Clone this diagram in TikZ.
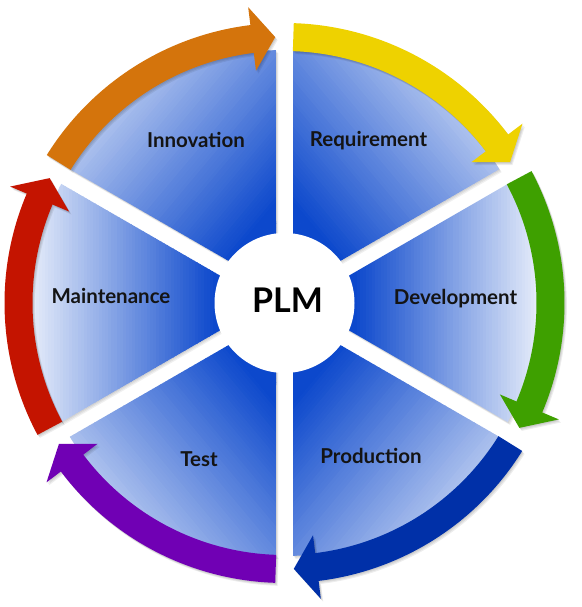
\documentclass[tikz,border=0pt]{standalone}
\usepackage{fontspec}
\setmainfont{Lato}
\definecolor{sectdark}{RGB}{12,72,204}
\definecolor{sectlight}{RGB}{232,238,250}
\definecolor{bandorange}{RGB}{212,116,12}
\definecolor{bandyellow}{RGB}{238,210,0}
\definecolor{bandgreen}{RGB}{62,160,0}
\definecolor{bandblue}{RGB}{0,48,168}
\definecolor{bandpurple}{RGB}{112,0,180}
\definecolor{bandred}{RGB}{196,20,0}
\tikzset{
  lbl/.style={font=\fontsize{20.5}{20.5}\selectfont\bfseries, text=black!92, inner sep=0pt, anchor=base},
  hub/.style={font=\fontsize{34}{34}\selectfont\bfseries, text=black, inner sep=0pt, anchor=base}
}
% wedge path: #1 bisector angle
\newcommand\plmwedgefill[2]{%
  \path[#2] (#1:17) -- ({#1-28.07}:253) arc[start angle={#1-28.07}, end angle={#1+28.07}, radius=253] -- cycle;}
% shaded sector: #1 bisector, #2 shading direction, #3 distance of lightest colour
\newcommand\plmsector[3]{%
  \begin{scope}
    \clip (#1:17) -- ({#1-28.07}:253) arc[start angle={#1-28.07}, end angle={#1+28.07}, radius=253] -- cycle;
    \begin{scope}[rotate=#2]
      \foreach \dd in {0,3,...,297} {
        \pgfmathtruncatemacro\mixp{max(0,min(100,round((\dd+1.5-70)/(#3-70)*100)))}
        \fill[sectlight!\mixp!sectdark] (\dd,-300) rectangle (\dd+3.6,300);
      }
    \end{scope}
  \end{scope}}
% curved arrow band: #1 start gap angle, #2 path options
\newcommand\plmband[2]{%
  \pgfmathsetmacro\bta{#1-1.9}%
  \pgfmathsetmacro\btb{#1-53}%
  \pgfmathsetmacro\btc{#1-58}%
  \path[#2] (\bta:280) arc[start angle=\bta, end angle=\btb, radius=280]
     -- (\btb:298) -- (\btc:266) -- (\btb:234) -- (\btb:252)
     arc[start angle=\btb, end angle=\bta, radius=252] -- cycle;}
\begin{document}
\begin{tikzpicture}[x=1pt,y=1pt]
\useasboundingbox (0,0) rectangle (581,607);
\fill[white] (0,0) rectangle (581,607);
\begin{scope}[shift={(284.5,304)}]
  % sector shadows
  \foreach \bb in {0,60,...,300} {
    \foreach \oo in {1,2,3} {
      \plmwedgefill{\bb}{fill=black, opacity=0.06, shift={(\oo*0.8,-\oo)}}
    }
  }
  % shaded sectors
  \plmsector{0}{0}{255}
  \plmsector{60}{40}{320}
  \plmsector{120}{140}{320}
  \plmsector{180}{180}{255}
  \plmsector{240}{220}{320}
  \plmsector{300}{320}{320}
  % hub
  \fill[white] (0,0) circle (70);
  % band shadows
  \foreach \ss in {150,90,30,-30,-90,-150} {
    \foreach \oo in {1,2,3} {
      \plmband{\ss}{fill=black, opacity=0.07, shift={(\oo*0.8,-\oo)}}
    }
  }
  % bands
  \plmband{150}{fill=bandorange}
  \plmband{90}{fill=bandyellow}
  \plmband{30}{fill=bandgreen}
  \plmband{-30}{fill=bandblue}
  \plmband{-90}{fill=bandpurple}
  \plmband{-150}{fill=bandred}
\end{scope}
\node[hub] (plm) at (287.5,294) {PLM};
\node[lbl] (inn) at (196,459) {Innovation};
\node[lbl] (req) at (368.5,460) {Requirement};
\node[lbl] (mnt) at (111,303) {Maintenance};
\node[lbl] (dev) at (455.5,302) {Development};
\node[lbl] (prd) at (371,143) {Production};
\node[lbl] (tst) at (199,140) {Test};
\end{tikzpicture}
\end{document}
